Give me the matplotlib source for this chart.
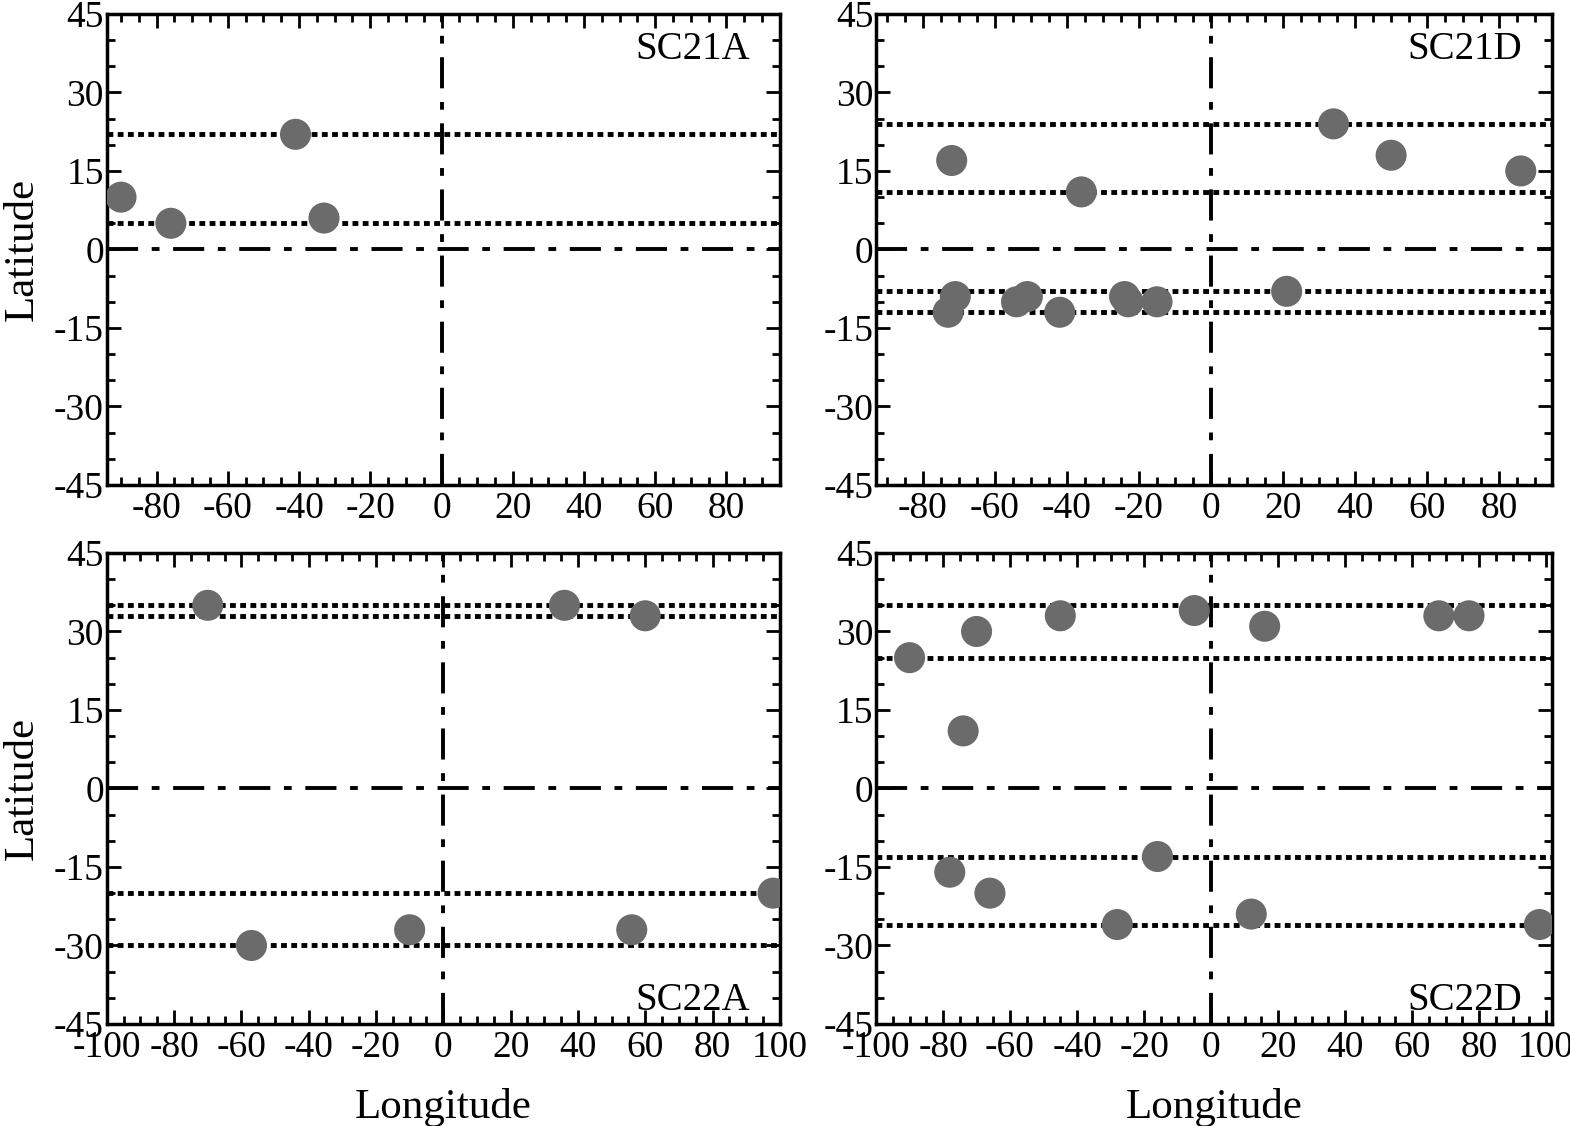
import matplotlib.pyplot as plt
from matplotlib.ticker import MultipleLocator

plt.rcParams["font.family"] = ["Liberation Serif", "DejaVu Serif"]
plt.rcParams["axes.unicode_minus"] = False

# SC21A
sc21a_lon = [-90, -76, -41, -33]
sc21a_lat = [10, 5, 22, 6]
sc21a_lines = [22, 5]

# SC21D
sc21d_lon = [-72, -36, 34, 50, 86, -71, -73, -54, -51, -42, -24, -23, -15, 21]
sc21d_lat = [17, 11, 24, 18, 15, -9, -12, -10, -9, -12, -9, -10, -10, -8]
sc21d_lines = [24, 11, -8, -12]

# SC22A
sc22a_lon = [-70, 36, 60, -57, -10, 56, 98]
sc22a_lat = [35, 35, 33, -30, -27, -27, -20]
sc22a_lines = [35, 33, -20, -30]

# SC22D
sc22d_lon = [-90, -70, -45, -5, 16, 68, 77, -74, -78, -66, -28, -16, 12, 98]
sc22d_lat = [25, 30, 33, 34, 31, 33, 33, 11, -16, -20, -26, -13, -24, -26]
sc22d_lines = [35, 25, -13, -26]

panels = [
    ("SC21A", sc21a_lon, sc21a_lat, sc21a_lines, [0.068, 0.5693, 0.4287, 0.4183], (-94, 95), "top"),
    ("SC21D", sc21d_lon, sc21d_lat, sc21d_lines, [0.558, 0.5693, 0.4306, 0.4183], (-93, 94.7), "top"),
    ("SC22A", sc22a_lon, sc22a_lat, sc22a_lines, [0.068, 0.0906, 0.4287, 0.4183], (-100, 100), "bottom"),
    ("SC22D", sc22d_lon, sc22d_lat, sc22d_lines, [0.558, 0.0906, 0.4306, 0.4183], (-100, 101.8), "bottom"),
]

fig = plt.figure(figsize=(15.7, 11.26), dpi=100)

for name, lon, lat, hlines, rect, xlim, row in panels:
    ax = fig.add_axes(rect)
    # zero lines, dash-dot
    ax.axhline(0, color="black", lw=2.8, ls=(0, (8, 3.5, 2, 3.5)), zorder=1)
    ax.axvline(0, color="black", lw=2.8, ls=(0, (8, 3.5, 2, 3.5)), zorder=1)
    for y in hlines:
        ax.axhline(y, color="black", lw=3.5, ls=(0, (1.2, 0.9)), zorder=1)
    ax.scatter(lon, lat, s=500, color="#6b6b6b", edgecolors="none", zorder=3)
    ax.set_xlim(*xlim)
    ax.set_ylim(-45, 45)
    ax.xaxis.set_major_locator(MultipleLocator(20))
    ax.xaxis.set_minor_locator(MultipleLocator(5))
    ax.yaxis.set_major_locator(MultipleLocator(15))
    ax.yaxis.set_minor_locator(MultipleLocator(5))
    ax.tick_params(which="both", direction="in", top=True, right=True, width=2, labelsize=27)
    ax.tick_params(which="major", length=10)
    ax.tick_params(which="minor", length=6)
    ax.tick_params(axis="x", pad=5)
    ax.tick_params(axis="y", pad=2)
    for sp in ax.spines.values():
        sp.set_linewidth(2.5)
    if row == "top":
        ax.text(0.955, 0.925, name, transform=ax.transAxes, ha="right", va="center", fontsize=28)
    else:
        ax.text(0.955, 0.05, name, transform=ax.transAxes, ha="right", va="center", fontsize=28)
        ax.set_xlabel("Longitude", fontsize=31, labelpad=16)
    if rect[0] < 0.3:
        ax.set_ylabel("Latitude", fontsize=31, labelpad=9)

fig.savefig("out.png", dpi=100)
